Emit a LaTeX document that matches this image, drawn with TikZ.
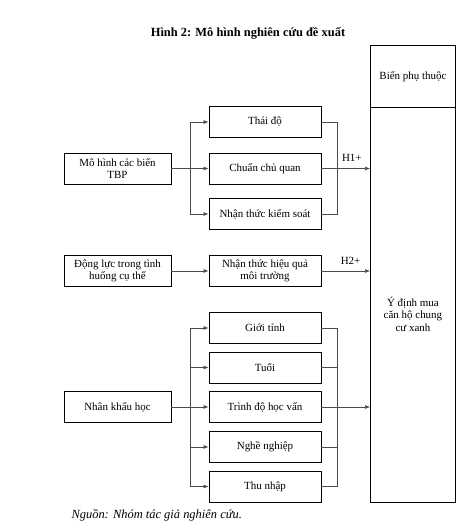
\documentclass[tikz,border=0pt]{standalone}
\usepackage{fontspec}
\setmainfont{Liberation Serif}
\usetikzlibrary{arrows.meta,positioning}
\tikzset{
  box/.style={draw,line width=0.9pt,minimum height=31bp,align=center,inner sep=1pt,font=\fontsize{11}{12}\selectfont},
  leftbox/.style={box,minimum width=107bp},
  midbox/.style={box,minimum width=112bp},
  link/.style={draw=black!70,line width=0.6pt},
  arr/.style={link,-{Latex[length=5bp,width=4bp]}},
  hyp/.style={font=\fontsize{11}{12}\selectfont,above=3bp}
}
\begin{document}
\begin{tikzpicture}[x=1bp,y=-1bp]
 \useasboundingbox (0,0) rectangle (474,530);
 % Title
 \node[font=\bfseries\fontsize{12.5}{14}\selectfont] (title) at (248,33) {Hình 2: Mô hình nghiên cứu đề xuất};

 % Dependent variable
 \node[box,minimum width=85bp,minimum height=62bp,anchor=north west] (dep) at (370,45) {Biến phụ thuộc};
 \node[box,minimum width=85bp,minimum height=395bp,anchor=north west,
   label={[align=center,font=\fontsize{11}{12.5}\selectfont,yshift=-9bp]center:Ý định mua\\căn hộ chung\\cư xanh}] (intent) at (370,107) {};

 % TPB variables
 \node[leftbox] (tbp) at (117.5,168.5) {Mô hình các biến\\TBP};
 \node[midbox] (td) at (265,122) {Thái độ};
 \node[midbox] (cq) at (265,168.5) {Chuẩn chủ quan};
 \node[midbox] (ks) at (265,214) {Nhận thức kiểm soát};
 \coordinate (tbpL) at (190,168.5);
 \coordinate (tbpR) at (337,168.5);
 \draw[arr] (tbp) -- (cq);
 \foreach \n in {td,ks} \draw[arr] (tbpL) |- (\n);
 \foreach \n in {td,cq,ks} \draw[link] (\n) -| (tbpR);
 \draw[arr] (tbpR) -- (tbpR -| intent.west) node[hyp,pos=0.45] {H1+};

 % Situational motivation
 \node[leftbox] (dl) at (117.5,271) {Động lực trong tình\\huống cụ thể};
 \node[midbox] (ht) at (265,271) {Nhận thức hiệu quả\\môi trường};
 \draw[arr] (dl) -- (ht);
 \draw[arr] (ht) -- (ht.east -| intent.west) node[hyp,pos=0.6] {H2+};

 % Demographics
 \node[leftbox] (nk) at (117.5,407) {Nhân khẩu học};
 \foreach \n/\y/\t in {gt/328/Giới tính, tu/367.5/Tuổi, hv/407/Trình độ học vấn, nn/447/Nghề nghiệp, tn/486.5/Thu nhập}
   \node[midbox] (\n) at (265,\y) {\t};
 \coordinate (nkL) at (190,407);
 \coordinate (nkR) at (337,407);
 \draw[arr] (nk) -- (hv);
 \foreach \n in {gt,tu,nn,tn} \draw[arr] (nkL) |- (\n);
 \foreach \n in {gt,tu,hv,nn,tn} \draw[link] (\n) -| (nkR);
 \draw[arr] (nkR) -- (nkR -| intent.west);

 % Source
 \node[anchor=west,font=\itshape\fontsize{12.5}{14}\selectfont] (src) at (68,515) {Nguồn: Nhóm tác giả nghiên cứu.};
\end{tikzpicture}
\end{document}
